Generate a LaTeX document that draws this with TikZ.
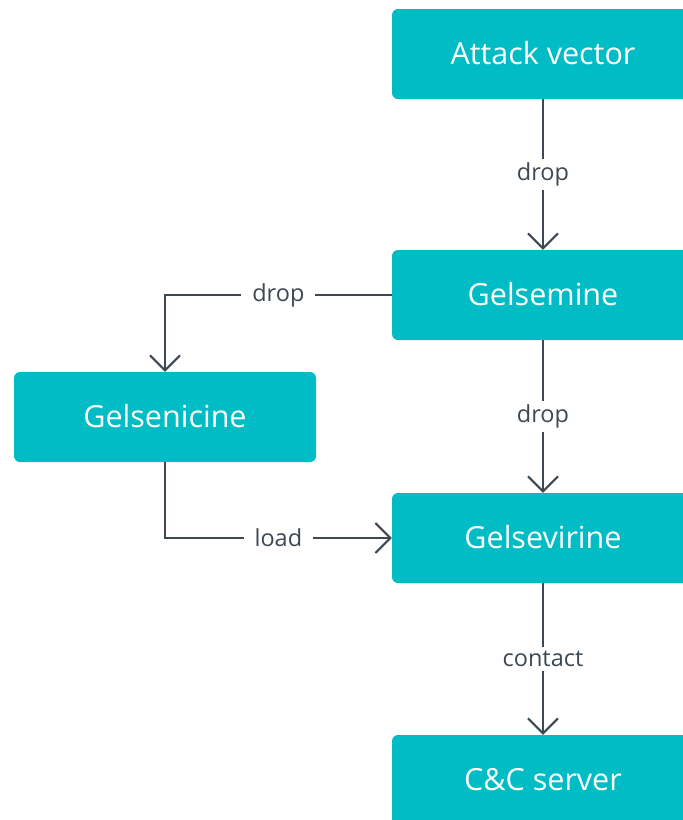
\documentclass[tikz,border=0pt]{standalone}
\usepackage{fontspec}
\setmainfont{Open Sans}
\usetikzlibrary{arrows.meta}
\definecolor{tealbox}{HTML}{00BCC5}
\definecolor{edgec}{HTML}{3E4852}
\begin{document}
\begin{tikzpicture}[x=1pt,y=-1pt,
 box/.style={fill=tealbox, rounded corners=6pt, minimum width=302pt, minimum height=90pt, text=white, font=\fontsize{30.5}{36}\selectfont, inner sep=0pt},
 conn/.style={draw=edgec, line width=2pt, -{Straight Barb[length=15pt,width=30pt,line width=2pt]}},
 lab/.style={fill=white, text=edgec, font=\fontsize{23.5}{28}\selectfont, inner xsep=11pt, inner ysep=4pt}]
\useasboundingbox (0,0) rectangle (683,820);
\clip (0,0) rectangle (683,820);
\node[box] (av) at (543,54) {\raisebox{2pt}{Attack vector}};
\node[box] (gm) at (543,295) {\raisebox{2pt}{Gelsemine}};
\node[box] (gn) at (165,417) {\raisebox{2pt}{Gelsenicine}};
\node[box] (gv) at (543,538) {\raisebox{2pt}{Gelsevirine}};
\node[box] (cc) at (543,780) {\raisebox{2pt}{C\&C server}};
\draw[conn] (av) -- node[lab]{drop} (gm);
\draw[conn] (gm.west) -| node[lab,pos=0.25]{drop} (gn.north);
\draw[conn] (gm) -- node[lab]{drop} (gv);
\draw[conn] (gn.south) |- node[lab,pos=0.75]{load} (gv.west);
\draw[conn] (gv) -- node[lab]{contact} (cc);
\end{tikzpicture}
\end{document}
